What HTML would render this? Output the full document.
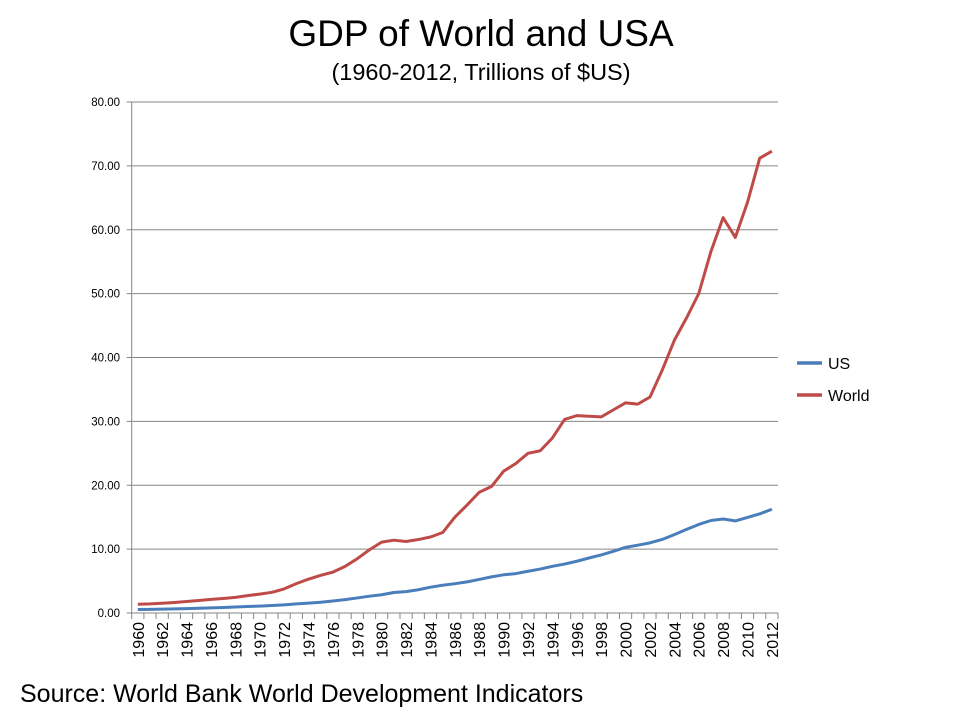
<!DOCTYPE html>
<html><head><meta charset="utf-8"><style>
body{margin:0;background:#fff;font-family:"Liberation Sans",sans-serif}
svg text{font-family:"Liberation Sans",sans-serif}
</style></head><body>
<svg id="chart" width="960" height="720" xmlns="http://www.w3.org/2000/svg">
<text x="481" y="46" font-size="37" text-anchor="middle">GDP of World and USA</text>
<text x="481" y="80" font-size="23.5" text-anchor="middle">(1960-2012, Trillions of $US)</text>
<text x="20" y="702" font-size="25">Source: World Bank World Development Indicators</text>
<g id="grid"></g><g id="axes"></g><g id="series"></g>
<g>
<line x1="797" y1="363" x2="822" y2="363" stroke="#4a7ebb" stroke-width="3.5"/>
<text x="828" y="369" font-size="16">US</text>
<line x1="797" y1="395" x2="822" y2="395" stroke="#be4b48" stroke-width="3.5"/>
<text x="828" y="401" font-size="16">World</text>
</g>
</svg>
<script>
const years=[];for(let y=1960;y<=2012;y++)years.push(y);
const world=[1.37,1.42,1.53,1.65,1.80,1.96,2.13,2.27,2.45,2.72,2.96,3.24,3.77,4.6,5.3,5.9,6.4,7.3,8.5,9.9,11.1,11.4,11.2,11.5,11.9,12.6,15.0,16.9,18.9,19.8,22.2,23.4,25.0,25.4,27.4,30.3,30.9,30.8,30.7,31.8,32.9,32.7,33.8,38.0,42.7,46.2,50.0,56.6,61.9,58.8,64.3,71.2,72.3];
const us=[0.54,0.56,0.60,0.64,0.69,0.74,0.81,0.86,0.94,1.02,1.08,1.17,1.28,1.43,1.55,1.69,1.88,2.09,2.36,2.63,2.86,3.21,3.35,3.64,4.04,4.35,4.59,4.87,5.25,5.66,5.98,6.17,6.54,6.88,7.31,7.66,8.10,8.61,9.09,9.66,10.28,10.62,10.98,11.51,12.27,13.09,13.86,14.48,14.72,14.42,14.96,15.52,16.24];
const yTicks=[0,10,20,30,40,50,60,70,80];
const X0=131.7,X1=778,Y0=613,Y1=102,YMAX=80;
const step=(X1-X0)/years.length;
const xs=i=>X0+step*(i+0.5);
const ys=v=>Y0-(v/YMAX)*(Y0-Y1);
const NS="http://www.w3.org/2000/svg";
function mk(tag,attrs,parent){const e=document.createElementNS(NS,tag);for(const k in attrs)e.setAttribute(k,attrs[k]);parent.appendChild(e);return e;}
const grid=document.getElementById('grid'),axes=document.getElementById('axes'),series=document.getElementById('series');
yTicks.forEach(t=>{
 if(t>0){const g=mk('line',{x1:X0,x2:X1,y1:ys(t),y2:ys(t),stroke:'#868686','stroke-width':1},grid);
 
 }
 const tx=mk('text',{x:120,y:ys(t)+4,'font-size':11.5,'text-anchor':'end'},axes);
 tx.textContent=t.toFixed(2);
 
 
 mk('line',{x1:X0-5,x2:X0,y1:ys(t),y2:ys(t),stroke:'#868686'},axes);
});
const ya=mk('line',{x1:X0,x2:X0,y1:Y1,y2:Y0,stroke:'#868686'},axes);


const xa=mk('line',{x1:X0,x2:X1,y1:Y0,y2:Y0,stroke:'#868686'},axes);


for(let i=0;i<=years.length;i++){mk('line',{x1:X0+step*i,x2:X0+step*i,y1:Y0,y2:Y0+6,stroke:'#868686'},axes);}
years.forEach((y,i)=>{
 if(i%2)return;
 const x=xs(i)+6;
 const t=mk('text',{x:x,y:Y0+9,'font-size':16,'text-anchor':'end',transform:`rotate(-90 ${x} ${Y0+9})`},axes);
 t.textContent=y;
 
 
});
function line(data,color,name){
 const p=mk('polyline',{points:data.map((v,i)=>xs(i)+','+ys(v)).join(' '),fill:'none',stroke:color,'stroke-width':3,'stroke-linejoin':'round'},series);
 
 
}
line(us,'#4a7ebb','us-line');
line(world,'#be4b48','world-line');
</script>
</body></html>
